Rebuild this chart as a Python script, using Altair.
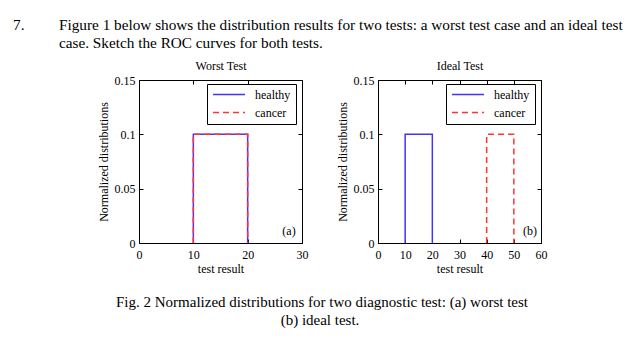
import altair as alt
import pandas as pd

# ---- data ----
series_names = ["healthy", "cancer"]
healthy_a_x = [10, 10, 20, 20]
healthy_a_y = [0, 0.1, 0.1, 0]
cancer_a_x = [10, 10, 20, 20]
cancer_a_y = [0, 0.1, 0.1, 0]
healthy_b_x = [10, 10, 20, 20]
healthy_b_y = [0, 0.1, 0.1, 0]
cancer_b_x = [40, 40, 50, 50]
cancer_b_y = [0, 0.1, 0.1, 0]

x_ticks_a = [0, 10, 20, 30]
x_ticks_b = [0, 10, 20, 30, 40, 50, 60]
y_ticks = [0, 0.05, 0.1, 0.15]
x_domain_a = [0, 30]
x_domain_b = [0, 60]
y_domain = [0, 0.15]

panel_titles = ["Worst Test", "Ideal Test"]
panel_tags = ["(a)", "(b)"]
x_title = "test result"
y_title = "Normalized distributions"
question_no = "7."
question_lines = [
    "Figure 1 below shows the distribution results for two tests: a worst test case and an ideal test",
    "case. Sketch the ROC curves for both tests.",
]
caption_lines = [
    "Fig. 2 Normalized distributions for two diagnostic test: (a) worst test",
    "(b) ideal test.",
]

FONT = "Liberation Serif"
W, H = 632, 346
Y_TOP, Y_BOT = 80, 243
LABEL_EXPR = "'' + datum.value"


def frame(xs_h, ys_h, xs_c, ys_c):
    rows = []
    for i, (x, y) in enumerate(zip(xs_h, ys_h)):
        rows.append({"x": x, "y": y, "series": series_names[0], "idx": i})
    for i, (x, y) in enumerate(zip(xs_c, ys_c)):
        rows.append({"x": x, "y": y, "series": series_names[1], "idx": i})
    return pd.DataFrame(rows)


df_a = frame(healthy_a_x, healthy_a_y, cancer_a_x, cancer_a_y)
df_b = frame(healthy_b_x, healthy_b_y, cancer_b_x, cancer_b_y)


def panel(df, xdom, xticks, x0, x1, legx, legy):
    xs = alt.Scale(domain=xdom, range=[x0, x1], nice=False, zero=False)
    ys = alt.Scale(domain=y_domain, range=[Y_BOT, Y_TOP], nice=False, zero=False)
    leg = alt.Legend(
        orient="none", legendX=legx, legendY=legy, title=None,
        strokeColor="black", fillColor="white", padding=5,
        symbolType="stroke", symbolSize=1024, symbolStrokeWidth=1.5,
        labelFont=FONT, labelFontSize=12, labelColor="black", labelOffset=9,
        rowPadding=5, clipHeight=11,
    )
    main = alt.Chart(df).mark_line(strokeWidth=1.5).encode(
        x=alt.X("x:Q", scale=xs, axis=alt.Axis(
            orient="bottom", offset=Y_BOT - H, values=xticks, ticks=False, tickSize=0,
            labelPadding=15, labelBaseline="alphabetic", labelFlush=False,
            labelOverlap=False, labelExpr=LABEL_EXPR, grid=False,
            title=x_title, titleBaseline="alphabetic", titleY=29,
            titleFontWeight="normal")),
        y=alt.Y("y:Q", scale=ys, axis=alt.Axis(
            orient="left", offset=-x0, values=y_ticks, ticks=False, tickSize=0,
            labelPadding=4, labelFlush=False, labelOverlap=False, labelExpr=LABEL_EXPR,
            grid=False, title=y_title, titleBaseline="alphabetic", titleX=-32,
            titleFontWeight="normal")),
        color=alt.Color("series:N", scale=alt.Scale(domain=series_names,
                                                    range=["#4433ff", "#ff3333"]), legend=leg),
        strokeDash=alt.StrokeDash("series:N", scale=alt.Scale(domain=series_names,
                                                              range=[[1, 0], [6, 4]]), legend=leg),
        order="idx:Q",
    )
    inner1 = alt.Chart(df).mark_point(opacity=0).encode(
        x=alt.X("x:Q", scale=xs, axis=alt.Axis(
            orient="top", offset=-Y_BOT, values=xticks, labels=False, domain=False,
            ticks=True, tickSize=4, grid=False, title=None)),
        y=alt.Y("y:Q", scale=ys, axis=alt.Axis(
            orient="right", offset=x0 - W, values=y_ticks, labels=False, domain=False,
            ticks=True, tickSize=4, grid=False, title=None)),
    )
    inner2 = alt.Chart(df).mark_point(opacity=0).encode(
        x=alt.X("x:Q", scale=xs, axis=alt.Axis(
            orient="bottom", offset=Y_TOP - H, values=xticks, labels=False, domain=True,
            ticks=True, tickSize=4, grid=False, title=None)),
        y=alt.Y("y:Q", scale=ys, axis=alt.Axis(
            orient="left", offset=-x1, values=y_ticks, labels=False, domain=True,
            ticks=True, tickSize=4, grid=False, title=None)),
    )
    return [main, inner1, inner2]


def label(text, x, y, size=12, align="left"):
    return alt.Chart(pd.DataFrame({"t": [text]})).mark_text(
        font=FONT, fontSize=size, align=align, baseline="alphabetic", color="black"
    ).encode(text="t:N", x=alt.value(x), y=alt.value(y))


layers = []
layers += panel(df_a, x_domain_a, x_ticks_a, 139, 302, 207, 84)
layers += panel(df_b, x_domain_b, x_ticks_b, 378, 541, 446, 84)
layers += [
    label(panel_titles[0], 221, 70, align="center"),
    label(panel_titles[1], 460, 70, align="center"),
    label(panel_tags[0], 289, 235, align="center"),
    label(panel_tags[1], 530, 235, align="center"),
    label(question_no, 13, 30, size=15.25),
    label(question_lines[0], 59, 30, size=15.25),
    label(question_lines[1], 59, 48, size=15.25),
    label(caption_lines[0], 322, 307, size=15, align="center"),
    label(caption_lines[1], 320, 325, size=15, align="center"),
]

chart = alt.layer(*layers).resolve_scale(
    x="independent", y="independent", color="independent", strokeDash="independent"
).resolve_axis(x="independent", y="independent").resolve_legend(
    color="independent", strokeDash="independent"
).properties(
    width=W, height=H, autosize=alt.AutoSizeParams(type="none"), padding=0,
    background="white",
).configure_view(stroke=None).configure_axis(
    domainColor="black", tickColor="black", labelColor="black", titleColor="black",
    labelFont=FONT, titleFont=FONT, labelFontSize=12, titleFontSize=12,
    domainWidth=1, tickWidth=1,
)

chart.save("out.html", embed_options={"renderer": "svg", "actions": False})
